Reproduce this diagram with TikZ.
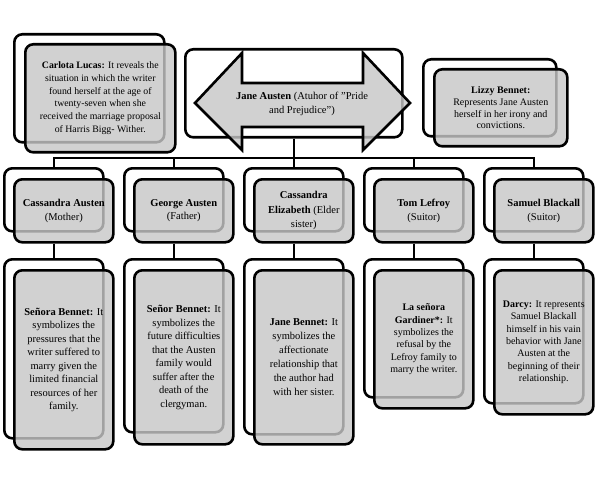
\documentclass[tikz,border=0pt]{standalone}
\usepackage{fontspec}
\setmainfont{Liberation Serif}
\usetikzlibrary{positioning}
\tikzstyle{backbox} = [rectangle, rounded corners=8pt, draw=black, fill=white, line width=2.6pt, inner sep=0pt, anchor=north west]
\tikzstyle{frontbox} = [rectangle, rounded corners=8pt, draw=black, fill=black!22, fill opacity=0.81, text opacity=1, line width=2.6pt, inner sep=0pt, anchor=north west, align=center, font=\fontsize{10.5}{13.5}\selectfont]
\tikzstyle{bigarrow} = [draw=black, fill=black!22, fill opacity=0.81, line width=2.6pt, line join=miter]
\tikzstyle{link} = [line width=2.2pt, draw=black]

\begin{document}
\begin{tikzpicture}[x=1pt, y=-1pt]
        \useasboundingbox (0,0) rectangle (596,497);
        % Top Layer
        \node (carl-b) [backbox, minimum width=150pt, minimum height=108pt] at (13,33) {};
        \node (carl) [frontbox, minimum width=150pt, minimum height=108pt, font=\fontsize{9.8}{12.7}\selectfont] at ([shift={(11,10)}]carl-b.north west) {\textbf{Carlota Lucas:} It reveals the\\situation in which the writer\\found herself at the age of\\twenty-seven when she\\received the marriage proposal\\of Harris Bigg- Wither.};
        \node (ja-b) [backbox, minimum width=217pt, minimum height=88pt] at (184,48) {};
        \draw [bigarrow] (195,103) -- (242,53) -- (242,83) -- (363,83) -- (363,53) -- (410,103)
                         -- (363,150) -- (363,127) -- (242,127) -- (242,150) -- cycle;
        \node (ja) [align=center, font=\fontsize{10.5}{13.5}\selectfont] at (302,104) {\textbf{Jane Austen} (Atuhor of \char34Pride\\and Prejudice\char34)};
        \node (lizzy-b) [backbox, minimum width=133pt, minimum height=77pt] at (422,58) {};
        \node (lizzy) [frontbox, minimum width=133pt, minimum height=77pt, font=\fontsize{10}{11.7}\selectfont] at ([shift={(11,10)}]lizzy-b.north west) {\textbf{Lizzy Bennet:}\\Represents Jane Austen\\herself in her irony and\\convictions.};

        % Family Layer
        \node (casA-b) [backbox, minimum width=99pt, minimum height=63pt] at (3,167) {};
        \node (casA) [frontbox, minimum width=99pt, minimum height=63pt] at ([shift={(10,11)}]casA-b.north west) {\textbf{Cassandra Austen}\\(Mother)};
        \node (geo-b) [backbox, minimum width=99pt, minimum height=63pt] at (123,167) {};
        \node (geo) [frontbox, minimum width=99pt, minimum height=63pt] at ([shift={(10,11)}]geo-b.north west) {\textbf{George Austen}\\(Father)};
        \node (casE-b) [backbox, minimum width=99pt, minimum height=63pt] at (243,167) {};
        \node (casE) [frontbox, minimum width=99pt, minimum height=63pt, font=\fontsize{10.5}{14.5}\selectfont] at ([shift={(10,11)}]casE-b.north west) {\textbf{Cassandra}\\\textbf{Elizabeth} (Elder\\sister)};
        \node (tom-b) [backbox, minimum width=99pt, minimum height=63pt] at (363,167) {};
        \node (tom) [frontbox, minimum width=99pt, minimum height=63pt] at ([shift={(10,11)}]tom-b.north west) {\textbf{Tom Lefroy}\\(Suitor)};
        \node (sam-b) [backbox, minimum width=99pt, minimum height=63pt] at (483,167) {};
        \node (sam) [frontbox, minimum width=99pt, minimum height=63pt] at ([shift={(10,11)}]sam-b.north west) {\textbf{Samuel Blackall}\\(Suitor)};

        % Character Layer
        \node (sBen-b) [backbox, minimum width=99pt, minimum height=179pt] at (3,258) {};
        \node (sBen) [frontbox, minimum width=99pt, minimum height=179pt] at ([shift={(10,11)}]sBen-b.north west) {\textbf{Señora Bennet:} It\\symbolizes the\\pressures that the\\writer suffered to\\marry given the\\limited financial\\resources of her\\family.};
        \node (mBen-b) [backbox, minimum width=99pt, minimum height=173pt] at (123,258) {};
        \node (mBen) [frontbox, minimum width=99pt, minimum height=174pt] at ([shift={(10,11)}]mBen-b.north west) {\textbf{Señor Bennet:} It\\symbolizes the\\future difficulties\\that the Austen\\family would\\suffer after the\\death of the\\clergyman.};
        \node (jBen-b) [backbox, minimum width=99pt, minimum height=175pt] at (243,258) {};
        \node (jBen) [frontbox, minimum width=99pt, minimum height=174pt, font=\fontsize{10.5}{14}\selectfont] at ([shift={(10,11)}]jBen-b.north west) {\textbf{Jane Bennet:} It\\symbolizes the\\affectionate\\relationship that\\the author had\\with her sister.};
        \node (gard-b) [backbox, minimum width=99pt, minimum height=138pt] at (363,258) {};
        \node (gard) [frontbox, minimum width=99pt, minimum height=138pt, font=\fontsize{10}{12.4}\selectfont] at ([shift={(10,11)}]gard-b.north west) {\textbf{La señora}\\\textbf{Gardiner*:} It\\symbolizes the\\refusal by the\\Lefroy family to\\marry the writer.};
        \node (darcy-b) [backbox, minimum width=99pt, minimum height=144pt] at (483,258) {};
        \node (darcy) [frontbox, minimum width=99pt, minimum height=144pt, font=\fontsize{10}{12.3}\selectfont] at ([shift={(10,11)}]darcy-b.north west) {\textbf{Darcy:} It represents\\Samuel Blackall\\himself in his vain\\behavior with Jane\\Austen at the\\beginning of their\\relationship.};

        % Connections
        \coordinate (bar) at (ja-b.south |- 0,158);
        \draw [link] (ja-b.south) -- (bar);
        \draw [link] (bar) -| (casA-b.north);
        \draw [link] (bar) -| (geo-b.north);
        \draw [link] (bar) -| (casE-b.north);
        \draw [link] (bar) -| (tom-b.north);
        \draw [link] (bar) -| (sam-b.north);

        \draw [link] (casA-b.south |- casA.south) -- (sBen-b.north);
        \draw [link] (geo-b.south |- geo.south) -- (mBen-b.north);
        \draw [link] (casE-b.south |- casE.south) -- (jBen-b.north);
        \draw [link] (tom-b.south |- tom.south) -- (gard-b.north);
        \draw [link] (sam-b.south |- sam.south) -- (darcy-b.north);
    \end{tikzpicture}
\end{document}
